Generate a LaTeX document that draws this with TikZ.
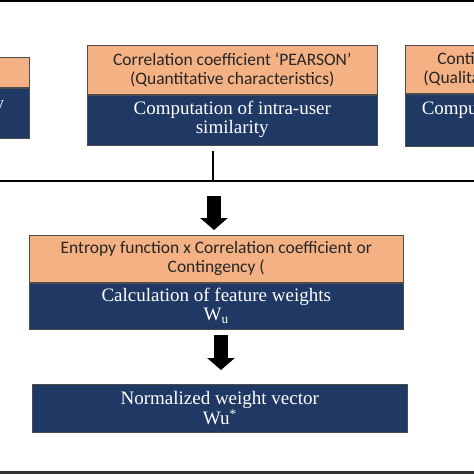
\documentclass[tikz,border=0pt]{standalone}
\usepackage{fontspec}
\setmainfont{Liberation Serif}
\newfontfamily\calibri{Carlito}
\usetikzlibrary{positioning,arrows.meta}
\definecolor{peach}{HTML}{F4B183}
\definecolor{navy}{HTML}{203864}
\tikzset {
    style A/.style={
        fill=peach,
        draw=gray!60!black,
        line width=.5pt,
        rectangle, % Set the shape as a rectangle
        inner sep=0pt,
        align=center,
        text=black!85,
        font=\calibri\fontsize{17.5}{19}\selectfont,
    },
    style B/.style={
        fill=navy,
        draw=gray!60!black,
        line width=.5pt,
        rectangle, % Set the shape as a rectangle
        inner sep=0pt,
        align=center,
        text=white,
        font=\fontsize{19}{19}\selectfont,
    },
    style C/.style={
        line width=14pt,
        -{Triangle[width=27pt,length=12pt]},
    },
    style D/.style={
        line width=2pt,
    },
}
\begin{document}
\begin{tikzpicture}[x=1pt,y=-1pt]
        \useasboundingbox (0,0) rectangle (474,474);
        \clip (0,0) rectangle (474,474);

        % left block, cut by the border
        \node[style A, minimum width=232pt, minimum height=30pt, anchor=north east] at (29,57) (entL) {};
        \node[style B, minimum width=232pt, minimum height=50pt, below=0pt of entL] (simL) {Computation of entropy\\function};

        % middle block
        \node[style A, minimum width=290pt, minimum height=49pt, anchor=north west] at (87,45) (pearson) {Correlation coefficient ‘PEARSON’\\(Quantitative characteristics)};
        \node[style B, minimum width=290pt, minimum height=50pt, below=0pt of pearson] (intra) {Computation of intra-user\\similarity};

        % right block, cut by the border
        \node[style A, minimum width=230pt, minimum height=48pt, anchor=north west] at (405,45) (cont) {Contingency coefficient\\(Qualitative characteristics)};
        \node[style B, minimum width=230pt, minimum height=52pt, below=0pt of cont] (inter) {Computation of inter-user\\similarity};

        % weights
        \node[style A, minimum width=374pt, minimum height=47pt, anchor=north west] at (29,235) (entropy) {Entropy function x Correlation coefficient or\\Contingency (};
        \node[style B, minimum width=374pt, minimum height=46pt, below=0pt of entropy] (weights) {Calculation of feature weights\\W\textsubscript{u}};
        \node[style B, minimum width=375pt, minimum height=48pt, anchor=north west] at (32,384) (norm) {Normalized weight vector\\Wu\textsuperscript{*}};

        \coordinate (bus) at (213,181);
        \coordinate (arrA) at (214,196);
        \coordinate (arrB) at (221,335);

        \draw[line width=2.5pt] (0,1) -- (474,1);
        \draw[style D] (0,181) -- (474,181);
        \draw[style D, shorten <=6pt] (bus |- intra.south) -- (bus);

        \draw[style C, shorten >=5pt] (arrA) -- (arrA |- entropy.north);
        \draw[style C, shorten >=14pt] (arrB) -- (arrB |- norm.north);

        \draw[line width=3pt, black!80] (0,472) -- (474,472);
    \end{tikzpicture}
\end{document}
